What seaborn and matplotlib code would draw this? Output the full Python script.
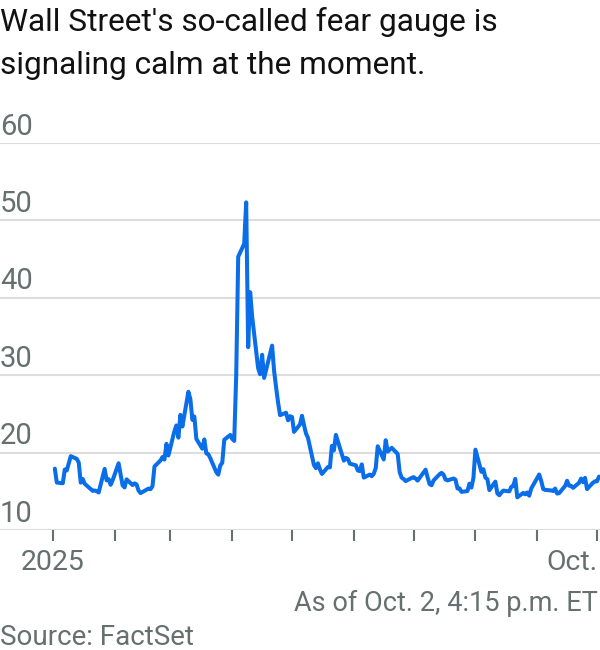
import pandas as pd
import seaborn as sns
import matplotlib.pyplot as plt
import matplotlib.transforms as mtransforms

# VIX daily closes, Jan 2 - Oct 2 2025
vix = [
    # Jan
    17.93, 16.13, 16.04, 17.82, 17.70, 19.54, 19.19, 18.71, 16.12, 16.60,
    15.97, 15.06, 15.10, 15.02, 14.85, 17.90, 16.41, 16.56, 15.84, 16.43,
    # Feb
    18.62, 17.21, 15.77, 15.50, 16.54, 15.81, 16.02, 15.89, 15.10, 14.77,
    15.35, 15.27, 15.66, 18.21, 18.98, 19.43, 19.10, 21.13, 19.63,
    # Mar
    22.78, 23.51, 21.93, 24.87, 23.37, 27.86, 26.92, 24.23, 24.66, 21.77,
    20.51, 21.70, 19.90, 19.80, 19.28, 17.48, 17.15, 18.33, 18.69, 21.65, 22.28,
    # Apr
    21.77, 21.51, 30.02, 45.31, 46.98, 52.33, 33.62, 40.72, 37.56, 30.89,
    30.12, 32.64, 29.65, 33.82, 30.57, 28.45, 26.47, 24.84, 25.15, 24.17, 24.70,
    # May
    24.60, 22.68, 23.64, 24.76, 23.55, 22.48, 21.90, 18.39, 17.99, 18.62,
    17.83, 17.24, 18.14, 18.09, 20.87, 20.28, 22.29, 18.96, 19.31, 19.18, 18.57,
    # Jun
    18.36, 17.69, 17.61, 18.48, 16.77, 17.16, 16.95, 17.26, 18.02, 20.82,
    19.11, 21.60, 20.14, 20.62, 19.83, 17.48, 16.76, 16.59, 16.32, 16.73,
    # Jul
    16.83, 16.64, 16.38, 17.79, 16.81, 15.94, 15.78, 16.40, 17.20, 17.38,
    17.16, 16.52, 16.41, 16.65, 16.50, 15.37, 15.39, 14.93, 15.03, 15.98, 15.48, 16.72,
    # Aug
    20.38, 17.52, 17.85, 16.77, 16.57, 15.15, 16.25, 14.73, 14.49, 14.83,
    15.09, 14.99, 15.57, 15.69, 16.60, 14.22, 14.79, 14.62, 14.85, 14.43, 15.36,
    # Sep
    17.17, 16.35, 15.30, 15.18, 15.11, 15.04, 15.35, 14.71, 14.76, 15.69,
    16.36, 15.72, 15.70, 15.45, 16.10, 16.64, 16.18, 16.74, 15.29, 16.12, 16.28,
    # Oct
    16.29, 16.90,
]
market_holidays = ["2025-01-09", "2025-01-20", "2025-02-17", "2025-04-18",
                   "2025-05-26", "2025-06-19", "2025-07-04", "2025-09-01"]
y_ticks = [10, 20, 30, 40, 50, 60]
x_ticks = pd.date_range("2025-01-01", "2025-10-01", freq="MS")
x_labels = ["2025", "", "", "", "", "", "", "", "", "Oct."]
title_lines = ["Wall Street's so-called fear gauge is", "signaling calm at the moment."]

days = pd.bdate_range("2025-01-02", "2025-10-02")
days = days[~days.isin(pd.to_datetime(market_holidays))]
df = pd.DataFrame({"date": days, "vix": vix})

grey = "#65706f"
sns.set_style("white")
plt.rcParams["font.family"] = ["Roboto", "DejaVu Sans"]

fig = plt.figure(figsize=(6, 6.5), dpi=100)
ax = fig.add_axes([0, 120 / 650, 1, 387 / 650])

for v in y_ticks:
    ax.axhline(v, color="#dddddd", lw=1.5, zorder=0)
sns.lineplot(data=df, x="date", y="vix", ax=ax, color="#0a6ee8", lw=2.9)

ax.set_ylim(10, 60)
ax.set_xlim(pd.Timestamp("2024-12-05 12:00"), pd.Timestamp("2025-10-02 12:00"))
for s in ax.spines.values():
    s.set_visible(False)
ax.set_xlabel("")
ax.set_ylabel("")
ax.set_yticks([])

ax.set_xticks(x_ticks)
ax.set_xticklabels(x_labels)
ax.tick_params(axis="x", length=8, width=1.5, color=grey, labelcolor=grey,
               labelsize=20.5, pad=6, bottom=True)
ax.get_xticklabels()[-1].set_ha("right")

trans = mtransforms.blended_transform_factory(ax.transAxes, ax.transData)
lift = mtransforms.ScaledTranslation(0, 6 / 72, fig.dpi_scale_trans)
for v in y_ticks:
    ax.text(0, v, str(v), transform=trans + lift, ha="left", va="baseline",
            fontsize=21, color=grey)

fig.text(0, 1 - 31 / 650, title_lines[0], ha="left", va="baseline",
         fontsize=22.8, color="#111111")
fig.text(0, 1 - 74 / 650, title_lines[1], ha="left", va="baseline",
         fontsize=22.8, color="#111111")
fig.text(598 / 600, 1 - 611 / 650, "As of Oct. 2, 4:15 p.m. ET", ha="right",
         va="baseline", fontsize=19.5, color=grey)
fig.text(0, 1 - 645 / 650, "Source: FactSet", ha="left", va="baseline",
         fontsize=20, color=grey)

fig.savefig("out.png", dpi=100)
